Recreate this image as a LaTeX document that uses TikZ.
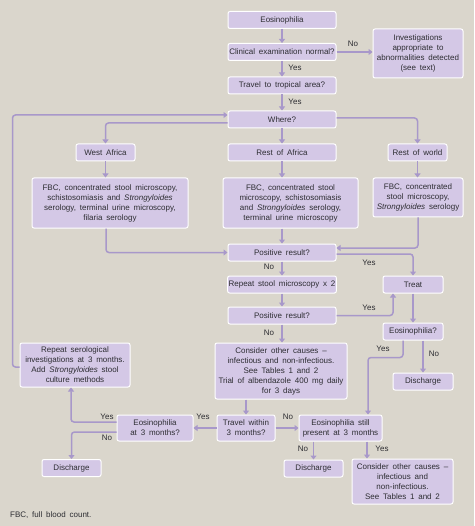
\documentclass[tikz,border=0pt]{standalone}
\usepackage{fontspec}
\setmainfont{Liberation Sans}
\usetikzlibrary{arrows.meta}
\definecolor{paper}{RGB}{218,214,204}
\definecolor{lilac}{RGB}{212,200,230}
\definecolor{wire}{RGB}{168,152,202}
\definecolor{ink}{RGB}{45,45,50}
\newcommand{\flowfont}{\fontsize{8}{10}\selectfont\spaceskip=3.8pt plus 1pt minus 0.5pt\relax}
\tikzstyle{box}=[rectangle,rounded corners=2pt,fill=lilac,draw=white,line width=1pt,align=center,inner sep=1pt,minimum height=17pt,text=ink,font=\flowfont]
\tikzstyle{lbl}=[inner sep=0,text=ink,font=\flowfont]
\tikzstyle{link}=[line width=1.5pt,draw=wire,rounded corners=3pt,-{Triangle[length=4pt,width=6pt]}]

\begin{document}
\begin{tikzpicture}[x=1pt,y=-1pt]
\useasboundingbox[fill=paper] (0,0) rectangle (474,526);

\node[box,minimum width=108pt] (eos) at (282,20) {Eosinophilia};
\node[box,minimum width=108pt] (clin) at (282,52) {Clinical examination normal?};
\node[box,minimum width=90pt,minimum height=49pt] (inv) at (418,53.5) {Investigations\\appropriate to\\abnormalities detected\\(see text)};
\node[box,minimum width=108pt] (trav) at (282,85.5) {Travel to tropical area?};
\node[box,minimum width=108pt] (where) at (282,119.5) {Where?};

\node[box,minimum width=59pt] (west) at (105.5,152.5) {West Africa};
\node[box,minimum width=108pt] (restaf) at (282,152.5) {Rest of Africa};
\node[box,minimum width=59pt] (restw) at (417.5,152.5) {Rest of world};

\node[box,minimum width=156pt,minimum height=50pt] (fbcw) at (110,203) {FBC, concentrated stool microscopy,\\schistosomiasis and \textit{Strongyloides}\\serology, terminal urine microscopy,\\filaria serology};
\node[box,minimum width=135pt,minimum height=50pt] (fbca) at (290.5,203) {FBC, concentrated stool\\microscopy, schistosomiasis\\and \textit{Strongyloides} serology,\\terminal urine microscopy};
\node[box,minimum width=90pt,minimum height=39pt] (fbcr) at (418,197.5) {FBC, concentrated\\stool microscopy,\\\textit{Strongyloides} serology};

\node[box,minimum width=108pt] (pos1) at (282,252.5) {Positive result?};
\node[box,minimum width=108pt] (rep) at (282,284.5) {Repeat stool microscopy x 2};
\node[box,minimum width=60pt] (treat) at (413,284.5) {Treat};
\node[box,minimum width=108pt] (pos2) at (282,315.5) {Positive result?};
\node[box,minimum width=60pt] (eosq) at (413,331.5) {Eosinophilia?};

\node[box,minimum width=132pt,minimum height=56pt] (cons1) at (281,371) {Consider other causes --\\infectious and non-infectious.\\See Tables 1 and 2\\Trial of albendazole 400 mg daily\\for 3 days};
\node[box,minimum width=110pt,minimum height=44pt] (repser) at (75,365) {Repeat serological\\investigations at 3 months.\\Add \textit{Strongyloides} stool\\culture methods};
\node[box,minimum width=60pt] (dis1) at (423,381.5) {Discharge};

\node[box,minimum width=58pt,minimum height=26pt] (travw) at (246,428) {Travel within\\3 months?};
\node[box,minimum width=76pt,minimum height=26pt] (eos3) at (155,428) {Eosinophilia\\at 3 months?};
\node[box,minimum width=83pt,minimum height=26pt] (still) at (340.5,428) {Eosinophilia still\\present at 3 months};

\node[box,minimum width=59pt] (dis2) at (71.5,468) {Discharge};
\node[box,minimum width=59pt] (dis3) at (313.5,468.5) {Discharge};
\node[box,minimum width=101pt,minimum height=45pt] (cons2) at (402.5,481.5) {Consider other causes --\\infectious and\\non-infectious.\\See Tables 1 and 2};

\node[lbl,anchor=west] (foot) at (10,515) {FBC, full blood count.};

\draw[link] (eos) -- (clin);
\draw[link] (clin) -- (trav);
\draw[link] (clin) -- (inv.west |- clin.east);
\draw[link] (trav) -- (where);
\draw[link] ([yshift=-3.5pt]where.west) -| (west.north);
\draw[link] (where) -- (restaf);
\draw[link] ([yshift=1.5pt]where.east) -| (restw.north);
\draw[link] (west.south) -- (west.south |- fbcw.north);
\draw[link] (restaf) -- (restaf.south |- fbca.north);
\draw[link] (restw.south) -- (restw.south |- fbcr.north);
\draw[link] ([xshift=-4pt]fbcw.south) |- (pos1.west);
\draw[link] (fbca.south -| pos1.north) -- (pos1.north);
\draw[link] (fbcr.south) |- ([yshift=4.5pt]pos1.east);
\draw[link] ([yshift=-1.5pt]pos1.east) -| (treat.north);
\draw[link] (pos1) -- (rep);
\draw[link] (rep) -- (pos2);
\draw[link] (pos2.east) -| ([xshift=-20pt]treat.south);
\draw[link] (treat) -- (eosq);
\draw[link] (pos2) -- (cons1.north -| pos2.south);
\draw[link] ([xshift=-10pt]eosq.south) -- ++(0,17) -| ([xshift=27.5pt]still.north);
\draw[link] ([xshift=10pt]eosq.south) -- (dis1.north);
\draw[link] (cons1.south -| travw.north) -- (travw.north);
\draw[link] (travw.west) -- (eos3.east);
\draw[link] (travw.east) -- (still.west);
\draw[link] ([yshift=6pt]eos3.west) -| ([xshift=-4pt]repser.south);
\draw[link] ([yshift=-4pt]eos3.west) -| (dis2.north);
\draw[link] (still.south -| dis3.north) -- (dis3.north);
\draw[link] ([xshift=26.5pt]still.south) -- ([xshift=26.5pt]still.south |- cons2.north);
\draw[link] ([yshift=-2pt]repser.west) -- ++(-7,0) |- ([yshift=4.5pt]where.west);

\node[lbl] (no1) at (353,44) {No};
\node[lbl] (yes1) at (295,68) {Yes};
\node[lbl] (yes2) at (295,102) {Yes};
\node[lbl] (yes3) at (369,263) {Yes};
\node[lbl] (no2) at (269,267) {No};
\node[lbl] (yes4) at (369,308) {Yes};
\node[lbl] (no3) at (269,333) {No};
\node[lbl] (yes5) at (383,349) {Yes};
\node[lbl] (no4) at (434,354) {No};
\node[lbl] (yes6) at (203,417) {Yes};
\node[lbl] (no5) at (288,417) {No};
\node[lbl] (yes7) at (107,417) {Yes};
\node[lbl] (no6) at (107,438) {No};
\node[lbl] (no7) at (303,449) {No};
\node[lbl] (yes8) at (382,449) {Yes};
\end{tikzpicture}
\end{document}
